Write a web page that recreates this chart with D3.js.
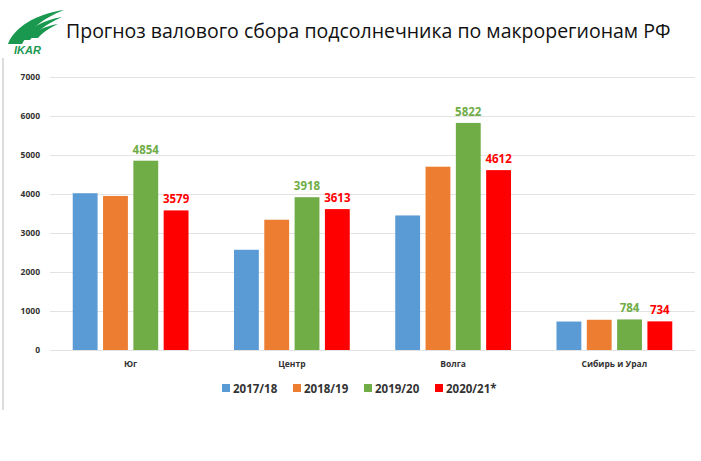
<!DOCTYPE html>
<html><head><meta charset="utf-8">
<script src="https://cdn.jsdelivr.net/npm/d3@7"></script>
<style>body{margin:0;background:#fff}</style></head>
<body><svg id="c" width="701" height="461"></svg>
<script>
const categories = ["Юг","Центр","Волга","Сибирь и Урал"];
const seriesNames = ["2017/18","2018/19","2019/20","2020/21*"];
const v2017 = [4020, 2570, 3450, 730];
const v2018 = [3950, 3340, 4700, 775];
const v2019 = [4854, 3918, 5822, 784];
const v2020 = [3579, 3613, 4612, 734];
const yTicks = [0,1000,2000,3000,4000,5000,6000,7000];
const colors = ["#5b9bd5","#ed7d31","#70ad47","#ff0000"];
const labelSeries = [2,3];
const series = [v2017,v2018,v2019,v2020];

const svg = d3.select("#c");
svg.append("line").attr("x1",3).attr("x2",3).attr("y1",58).attr("y2",410).attr("stroke","#d0d0d0").attr("stroke-width",1.5);
const g0 = svg.append("g");
g0.append("path").attr("d","M8,44 C14,28 35,14 64,10 C44,18 30,28 22,44 Z").attr("fill","#1a9850");
g0.append("path").attr("d","M20,40 C28,28 44,20 62,17 C46,24 36,32 30,40 Z").attr("fill","#1a9850");
g0.append("path").attr("d","M30,38 C36,30 46,26 58,24 C48,29 42,33 38,38 Z").attr("fill","#1a9850");
g0.append("text").attr("x",14).attr("y",54).text("IKAR").attr("font-family","Liberation Sans").attr("font-weight","bold").attr("font-style","italic").attr("font-size",11).attr("fill","#1a9850");
svg.append("text").attr("x",66).attr("y",38).text("Прогноз валового сбора подсолнечника по макрорегионам РФ")
  .attr("font-family","Open Sans").attr("font-size",19.5).attr("fill","#111");

const x0 = d3.scaleBand().domain(categories).range([50,695]);
const x1 = d3.scaleBand().domain(d3.range(4)).range([0,x0.bandwidth()]).paddingInner(0.18).paddingOuter(0.75);
const y = d3.scaleLinear().domain([0,7000]).range([350,77]);

const ga = svg.append("g").attr("transform","translate(50,0)").call(d3.axisLeft(y).tickValues(yTicks).tickFormat(d3.format("d")).tickSize(-645).tickPadding(10));
ga.select(".domain").remove();
ga.selectAll("line").attr("stroke","#e3e3e3");
ga.selectAll("text").attr("font-family","Open Sans").attr("font-weight","bold").attr("font-size",8.5).attr("fill","#333");

categories.forEach((c,i)=>{
  series.forEach((s,j)=>{
    svg.append("rect").attr("x",x0(c)+x1(j)).attr("y",y(s[i])).attr("width",x1.bandwidth()).attr("height",350-y(s[i])).attr("fill",colors[j]);
    if(labelSeries.includes(j)) svg.append("text").attr("x",x0(c)+x1(j)+x1.bandwidth()/2).attr("y",y(s[i])-7)
      .attr("text-anchor","middle").text(s[i]).attr("font-family","Open Sans").attr("font-weight","bold").attr("font-size",11.5).attr("fill",colors[j]);
  });
  svg.append("text").attr("x",x0(c)+x0.bandwidth()/2).attr("y",367).attr("text-anchor","middle").text(c)
    .attr("font-family","Open Sans").attr("font-weight","bold").attr("font-size",8.5).attr("fill","#333");
});

const lx=[222,293,364,435];
seriesNames.forEach((n,j)=>{
  svg.append("rect").attr("x",lx[j]).attr("y",384).attr("width",8).attr("height",8).attr("fill",colors[j]);
  svg.append("text").attr("x",lx[j]+11).attr("y",393).text(n).attr("font-family","Open Sans").attr("font-weight","bold").attr("font-size",11.5).attr("fill","#333");
});
</script></body></html>
